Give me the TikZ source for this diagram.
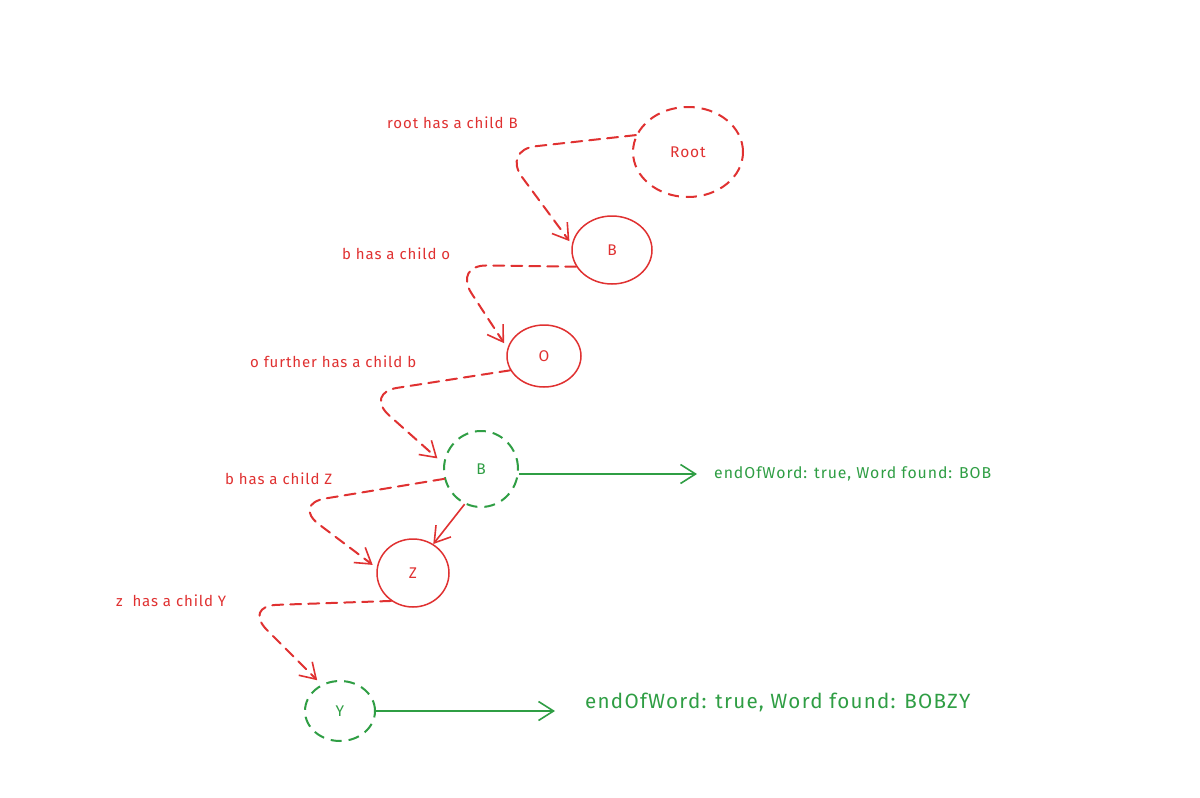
\documentclass[tikz,border=0pt]{standalone}
\usepackage{fontspec}
\setmainfont{Fira Sans}[LetterSpace=6]
\usetikzlibrary{shapes.geometric,arrows.meta}
\definecolor{exred}{HTML}{E03131}
\definecolor{exgreen}{HTML}{2F9E44}
\tikzset{
  nodeshape/.style={ellipse, inner sep=0pt, line width=1.5pt, font=\fontsize{15.5}{17}\selectfont},
  rednode/.style={nodeshape, draw=exred, text=exred},
  greennode/.style={nodeshape, draw=exgreen, text=exgreen, dash pattern=on 11pt off 7pt, line width=2pt},
  dashednode/.style={dash pattern=on 11pt off 7pt, line width=2pt},
  lbl/.style={anchor=west, inner sep=0pt, text=exred, font=\fontsize{15}{17}\selectfont},
  glbl/.style={anchor=west, inner sep=0pt, text=exgreen},
  tip/.style={-{Straight Barb[length=15pt,width=19pt,line width=1.6pt]}},
  dlink/.style={draw=exred, line width=2pt, dash pattern=on 11pt off 7pt, tip, line cap=round, rounded corners=34pt},
  slink/.style={line width=1.6pt, tip}
}
\begin{document}
\begin{tikzpicture}[x=1pt,y=-1pt]
\useasboundingbox[fill=white] (0,0) rectangle (1200,798);
% nodes
\node[rednode, dashednode, minimum width=110pt, minimum height=90pt] (Root) at (688,152) {Root};
\node[rednode, minimum width=80pt, minimum height=68pt] (B1) at (612,250) {B};
\node[rednode, minimum width=74pt, minimum height=62pt] (O) at (544,356) {O};
\node[greennode, minimum width=74pt, minimum height=76pt] (B2) at (481,469) {B};
\node[rednode, minimum width=72pt, minimum height=68pt] (Z) at (413,573) {Z};
\node[greennode, minimum width=70pt, minimum height=60pt] (Y) at (340,711) {Y};
% labels
\node[lbl] (l1) at (387,123) {root has a child B};
\node[lbl] (l2) at (342,254) {b has a child o};
\node[lbl] (l3) at (250,362) {o further has a child b};
\node[lbl] (l4) at (225,479) {b has a child Z};
\node[lbl] (l5) at (116,601) {z\ \ has a child Y};
\node[glbl, font=\fontsize{15.8}{18}\selectfont] (t1) at (714,474) {endOfWord: true, Word found: BOB};
\node[glbl, font=\fontsize{20.6}{23}\selectfont] (t2) at (585,702) {endOfWord: true, Word found: BOBZY};
% bend points
\coordinate (c1) at (502,150);
\coordinate (c2) at (453,265);
\coordinate (c3) at (364,393);
\coordinate (c4) at (292,504);
\coordinate (c5) at (243,606);
% connectors
\draw[dlink, shorten >=4pt] (Root.162) -- (c1) -- (B1.172);
\draw[dlink, shorten >=6pt] (B1.205) -- (c2) -- (O.168);
\draw[dlink, shorten >=8pt] (O.203) -- (c3) -- (B2.172);
\draw[dlink, shorten >=5pt] (B2.195) -- (c4) -- (Z.172);
\draw[dlink, shorten >=6pt] (Z.232) -- (c5) -- (Y.125);
\draw[exred, slink] (B2.245) -- (Z.55);
\draw[exgreen, slink, shorten >=17pt] (B2.east |- t1.west) -- (t1.west);
\draw[exgreen, slink, shorten >=30pt] (Y.east) -- (Y.east -| t2.west);
\end{tikzpicture}
\end{document}
